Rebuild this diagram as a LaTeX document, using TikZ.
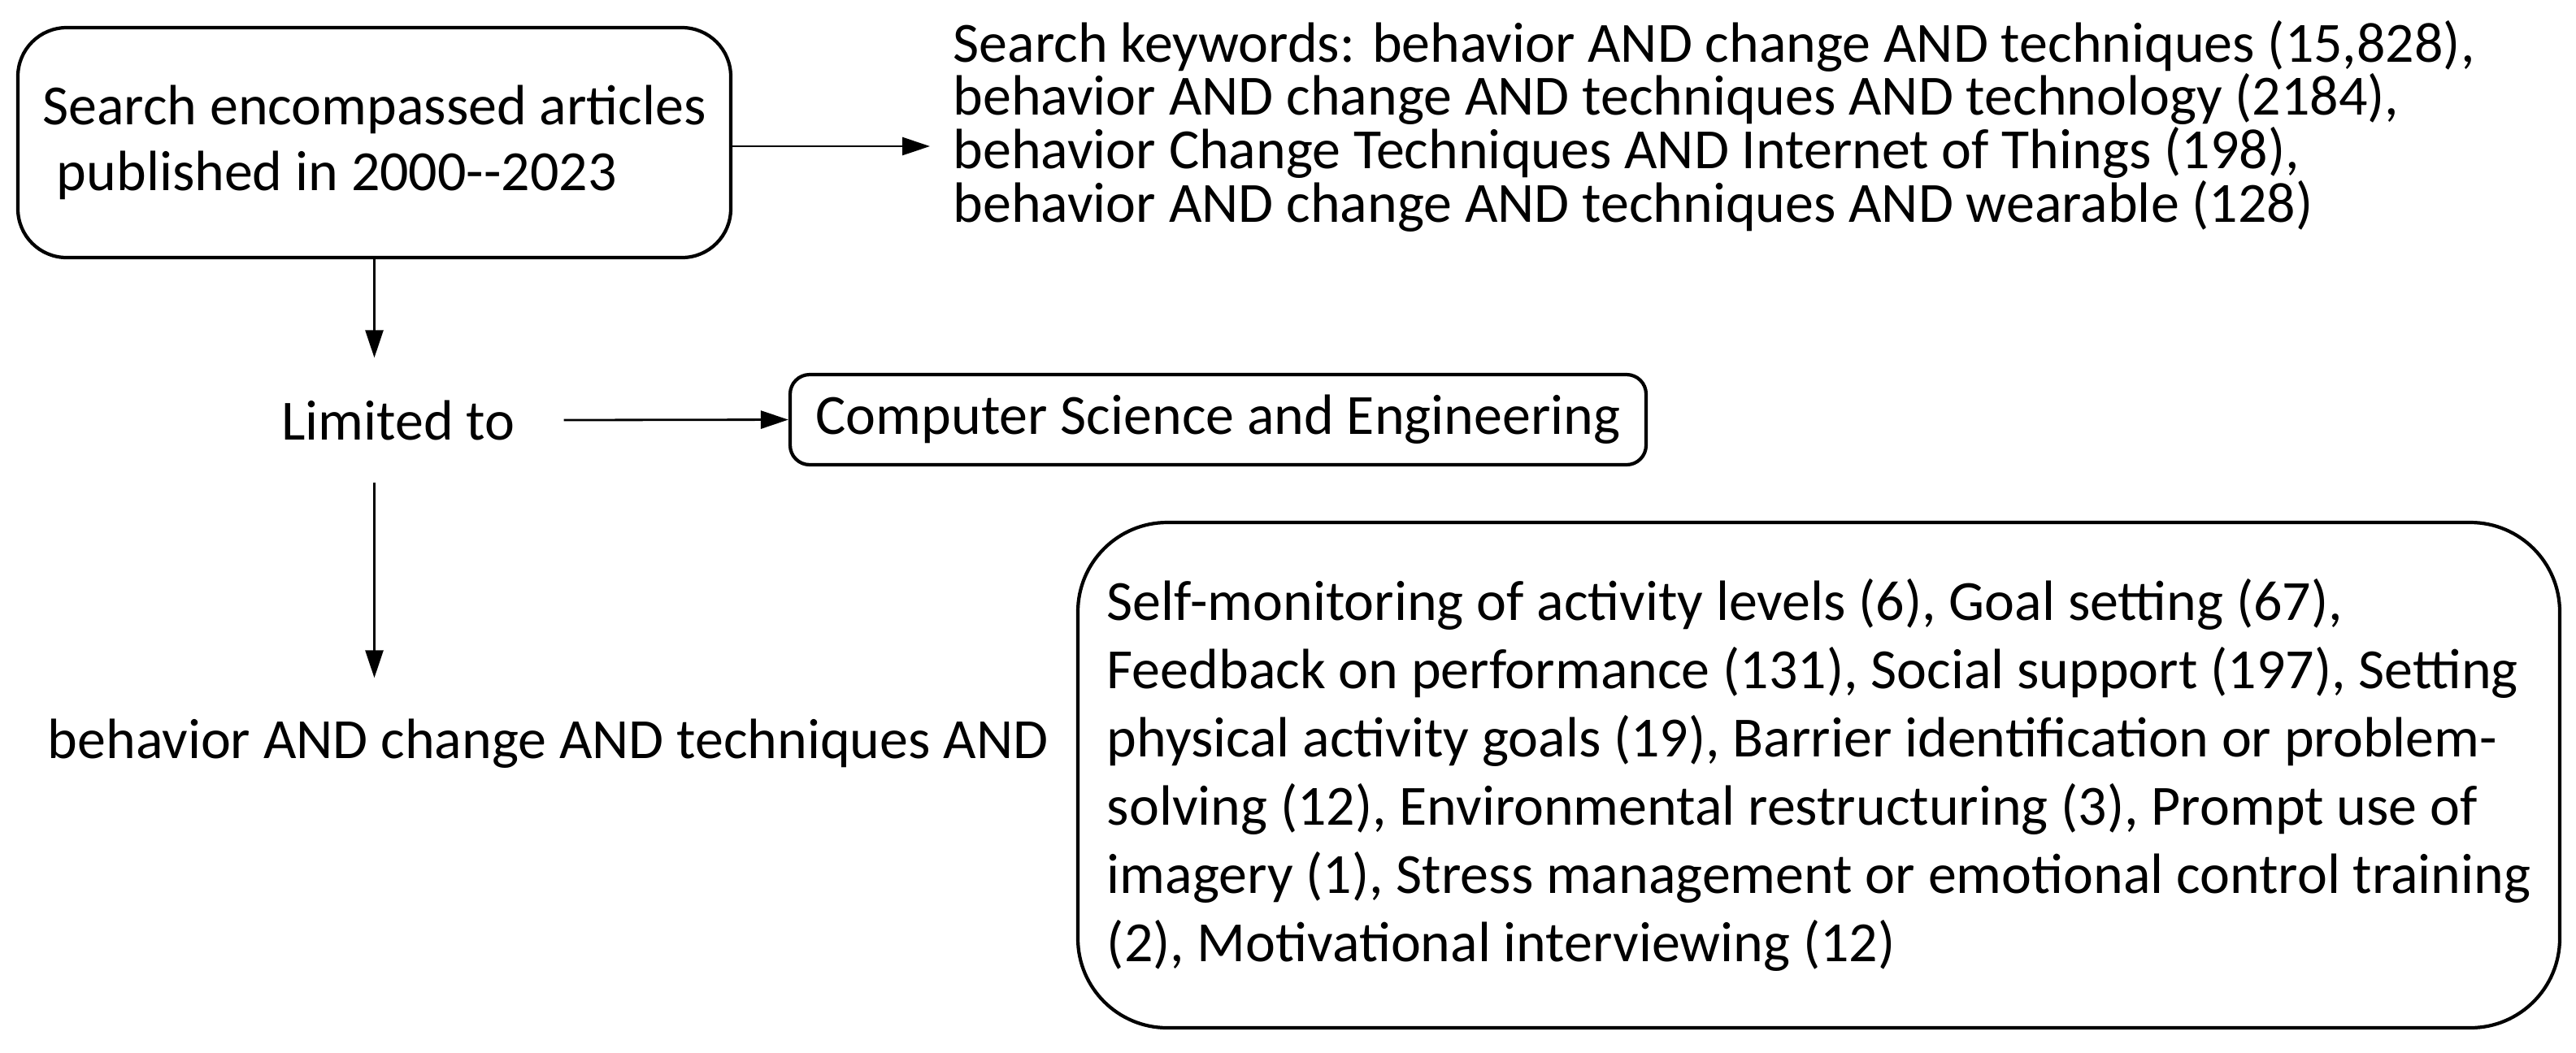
\documentclass[tikz,border=0pt]{standalone}
\usepackage{fontspec}
\setmainfont{Carlito}
\usetikzlibrary{arrows.meta}

\tikzset{
  arr/.style={-{Triangle[length=0.34cm,width=0.22cm]},line width=0.8pt},
  rbox/.style={draw,line width=1.2pt,align=left,inner sep=0pt},
  plain/.style={align=left,inner sep=0pt}
}

\begin{document}
\begin{tikzpicture}[font=\fontsize{19.9}{23.2}\selectfont]
   \useasboundingbox (0,0) rectangle (31.69,-12.95);
   % boxes and texts
   \node[rbox,rounded corners=0.6cm,minimum width=8.77cm,minimum height=2.83cm] (search) at (4.605,-1.755)
     {Search encompassed articles\\\hspace{0.25em}published in 2000-{}-2023};
   \node[plain,anchor=west,font=\fontsize{19.9}{18.7}\selectfont] (keys) at (11.72,-1.55)
     {Search keywords: behavior AND change AND techniques (15,828),\\
      behavior AND change AND techniques AND technology (2184),\\
      behavior Change Techniques AND Internet of Things (198),\\
      behavior AND change AND techniques AND wearable (128)};
   \node[plain,align=center,minimum width=4.06cm,minimum height=1.52cm] (limit) at (4.9,-5.17) {Limited to};
   \node[rbox,rounded corners=0.24cm,minimum width=10.53cm,minimum height=1.11cm] (field) at (14.985,-5.165)
     {Computer Science and Engineering};
   \node[plain,minimum height=1.6cm] (bact) at (6.74,-9.15) {behavior AND change AND techniques AND};
   \node[rbox,rounded corners=1.1cm,minimum width=18.23cm,minimum height=6.22cm,font=\fontsize{19.9}{23.9}\selectfont] (bcts) at (22.375,-9.54)
     {Self-monitoring of activity levels (6), Goal setting (67),\\
      Feedback on performance (131), Social support (197), Setting\\
      physical activity goals (19), Barrier identification or problem-\\
      solving (12), Environmental restructuring (3), Prompt use of\\
      imagery (1), Stress management or emotional control training\\
      (2), Motivational interviewing (12)};
   % connectors
   \draw[arr] (search.east |- 0,-1.80) -- (11.44,-1.80);
   \draw[arr] (search.south) -- (search.south |- limit.north);
   \draw[arr] (limit.east) -- (field.west);
   \draw[arr] (search.south |- limit.south) -- (search.south |- bact.north);
\end{tikzpicture}
\end{document}
